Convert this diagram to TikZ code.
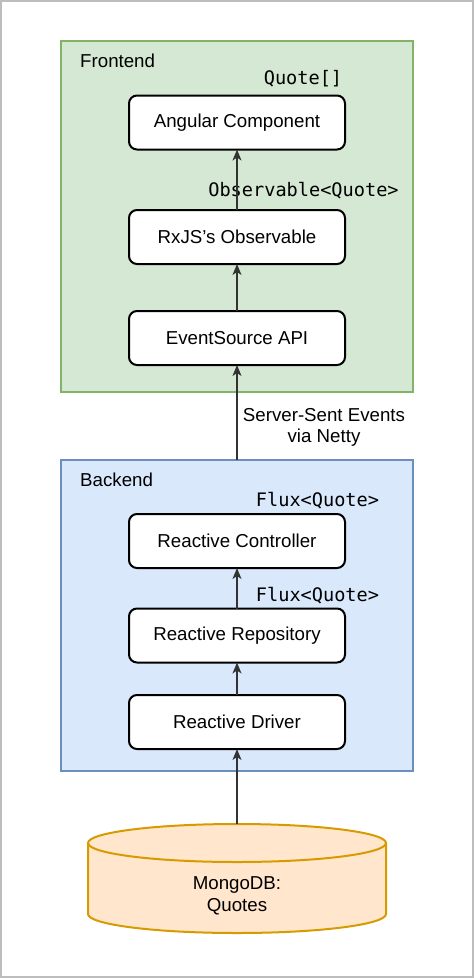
\documentclass[tikz,border=0pt]{standalone}
\usepackage{fontspec}
\setmainfont{Liberation Sans}
\newfontfamily\monofont{DejaVu Sans Mono}
\usetikzlibrary{arrows.meta}
\definecolor{frontfill}{HTML}{D5E8D4}
\definecolor{frontline}{HTML}{82B366}
\definecolor{backfill}{HTML}{DAE8FC}
\definecolor{backline}{HTML}{6C8EBF}
\definecolor{dbfill}{HTML}{FFE6CC}
\definecolor{dbline}{HTML}{D79B00}
\definecolor{framegray}{HTML}{BDBDBD}
\definecolor{arrowgray}{HTML}{333333}
\tikzset{
  container/.style={draw, line width=2pt, inner sep=0pt, outer sep=0pt},
  compbox/.style={draw=black, fill=white, line width=2pt, rounded corners=8pt,
    minimum width=216pt, minimum height=54pt, inner sep=0pt, outer sep=0pt,
    font=\fontsize{18.7pt}{22pt}\selectfont},
  lbl/.style={inner sep=0pt, font=\fontsize{18.7pt}{21.5pt}\selectfont},
  monolbl/.style={inner sep=0pt, font=\monofont\fontsize{18.6pt}{22pt}\selectfont},
  flow/.style={draw=arrowgray, line width=1.4pt,
    -{Stealth[length=11pt, width=9pt, inset=3pt]}}
}
\begin{document}
\begin{tikzpicture}[x=1pt, y=-1pt]
\useasboundingbox (0,0) rectangle (474,978);
% outer frame
\draw[framegray, line width=2pt] (1,1) rectangle (473,977);

% containers
\node[container, draw=frontline, fill=frontfill, minimum width=352pt, minimum height=351pt] (front) at (237,216.5) {};
\node[container, draw=backline, fill=backfill, minimum width=352pt, minimum height=311pt] (back) at (237,615.5) {};
\node[lbl, anchor=west] (frontlbl) at (80,61) {Frontend};
\node[lbl, anchor=west] (backlbl) at (80,480) {Backend};

% component boxes
\node[compbox] (ang) at (237,122.5) {Angular Component};
\node[compbox] (rxjs) at (237,237) {RxJS{\char"0027}s Observable};
\node[compbox] (es) at (237,338) {EventSource API};
\node[compbox] (ctrl) at (237,541) {Reactive Controller};
\node[compbox] (repo) at (237,635.5) {Reactive Repository};
\node[compbox] (drv) at (237,722) {Reactive Driver};

% database cylinder
\path[fill=dbfill, draw=dbline, line width=2pt]
  (88,843) -- (88,914)
  arc[start angle=180, end angle=360, x radius=149pt, y radius=19pt]
  -- (386,843)
  arc[start angle=0, end angle=180, x radius=149pt, y radius=19pt] -- cycle;
\draw[dbline, line width=2pt] (88,843)
  arc[start angle=180, end angle=360, x radius=149pt, y radius=19pt];
\node[lbl, align=center] (db) at (237,896) {MongoDB:\\Quotes};
\coordinate (dbtop) at (237,824);

% labels
\node[monolbl] (lq) at (303,79) {Quote[]};
\node[monolbl] (lobs) at (303.5,191) {Observable<Quote>};
\node[lbl, align=center] (lsse) at (324,427.5) {Server-Sent Events\\via Netty};
\node[monolbl] (lflux1) at (317.5,501) {Flux<Quote>};
\node[monolbl] (lflux2) at (317.5,596) {Flux<Quote>};

% connectors
\draw[flow] (rxjs.north) -- (ang.south);
\draw[flow] (es.north) -- (rxjs.south);
\draw[flow] (back.north) -- (es.south);
\draw[flow] (repo.north) -- (ctrl.south);
\draw[flow] (drv.north) -- (repo.south);
\draw[flow] (dbtop) -- (drv.south);
\end{tikzpicture}
\end{document}
